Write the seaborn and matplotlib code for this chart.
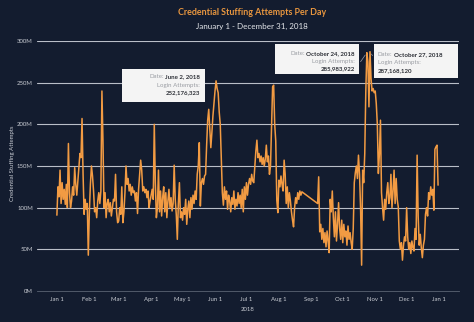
import matplotlib
matplotlib.use("Agg")
import matplotlib.pyplot as plt
import seaborn as sns
import pandas as pd
import numpy as np
from matplotlib.patches import Rectangle

# ---- data (millions of login attempts per day) ----
jan = [91,125,113,145,105,130,110,122,104,128,100,177,118,100,108,125,115,148,128,115,
       132,150,165,160,207,140,92,110,98,105,43]
feb = [95,128,150,138,120,95,100,88,108,118,105,120,240,180,100,118,88,105,110,95,
       106,90,100,110,108,140,95,82]
mar = [84,100,92,125,82,95,118,150,128,135,120,128,115,125,118,120,108,118,93,122,
       140,157,145,120,125,118,122,112,120,100,108]
apr = [115,122,110,200,130,88,100,145,95,120,90,112,125,95,118,88,108,122,100,112,
       96,105,151,110,92,62,105,130,88,95]
may = [85,100,92,110,80,98,108,88,112,98,115,105,120,110,140,150,178,102,130,135,
       128,138,140,175,205,218,195,172,190,210,225]
jun = [240,252,243,238,215,200,160,118,103,125,110,120,98,115,108,95,112,104,120,98,
       110,102,118,105,115,100,122,95,125,110]
jul = [130,115,128,135,128,140,132,130,150,168,181,160,165,155,162,152,160,150,158,175,
       155,162,140,150,200,245,247,200,180,109,94]
aug = [133,125,138,128,120,157,140,105,125,100,118,108,95,85,77,100,112,105,118,110,
       120,115,119]                      # Aug 1 - Aug 23 (no data Aug 24 - Sep 6)
sep = [105,137,71,80,62,75,58,70,53,72,60,46,110,95,120,88,65,95,60,80,
       106,75,62,85]                     # Sep 7 - Sep 30
oct_ = [58,80,65,72,55,78,62,70,58,50,75,130,142,150,135,163,140,100,31,145,
        130,165,240,286,275,221,287,255,240,243,238]
nov = [240,225,200,141,165,205,118,100,85,110,98,118,130,105,112,140,100,120,145,105,
       135,110,101,60,50,58,37,55,65,60]
dec = [100,65,50,58,45,60,52,48,75,62,163,90,55,68,52,40,55,62,92,100,
       90,118,110,125,115,122,97,170,173,175,127]

month_values = [jan, feb, mar, apr, may, jun, jul, aug, sep, oct_, nov, dec]
month_starts = ["2018-01-01", "2018-02-01", "2018-03-01", "2018-04-01", "2018-05-01",
                "2018-06-01", "2018-07-01", "2018-08-01", "2018-09-07", "2018-10-01",
                "2018-11-01", "2018-12-01"]

y_ticks = [0, 50e6, 100e6, 150e6, 200e6, 250e6, 300e6]
y_tick_labels = ["0M", "50M", "100M", "150M", "200M", "250M", "300M"]
x_tick_dates = ["2018-01-01", "2018-02-01", "2018-03-01", "2018-04-01", "2018-05-01",
                "2018-06-01", "2018-07-01", "2018-08-01", "2018-09-01", "2018-10-01",
                "2018-11-01", "2018-12-01", "2019-01-01"]
x_tick_labels = ["Jan 1", "Feb 1", "Mar 1", "Apr 1", "May 1", "Jun 1", "Jul 1",
                 "Aug 1", "Sep 1", "Oct 1", "Nov 1", "Dec 1", "Jan 1"]

callouts = [  # (date, exact value, label date)
    ("2018-06-02", 252176323, "June 2, 2018"),
    ("2018-10-24", 285983922, "October 24, 2018"),
    ("2018-10-27", 287168120, "October 27, 2018"),
]

# ---- build frame ----
dates, vals = [], []
for start, vs in zip(month_starts, month_values):
    d = pd.date_range(start, periods=len(vs), freq="D")
    dates.extend(d)
    vals.extend(v * 1e6 for v in vs)
df = pd.DataFrame({"date": dates, "attempts": vals})
for ds, exact, _ in callouts:
    df.loc[df["date"] == pd.Timestamp(ds), "attempts"] = exact

# ---- style ----
BG = "#131c2f"
ORANGE = "#f29b43"
GRID = "#b9bec8"
TXT = "#c9ccd3"

sns.set_theme(style="white")
plt.rcParams["font.family"] = ["Lato", "DejaVu Sans"]

W, H = 474, 322
fig = plt.figure(figsize=(W / 100, H / 100), dpi=100, facecolor=BG)
ax = fig.add_axes([37 / W, (H - 291) / H, (459 - 37) / W, 250 / H])
ax.set_facecolor(BG)

sns.lineplot(data=df, x="date", y="attempts", ax=ax, color=ORANGE, linewidth=1.1,
             zorder=3)

ax.set_ylim(0, 300e6)
ax.set_xlim(pd.Timestamp("2017-12-13"), pd.Timestamp("2019-01-20"))
ax.set_yticks(y_ticks)
ax.set_yticklabels(y_tick_labels)
ax.set_xticks(pd.to_datetime(x_tick_dates))
ax.set_xticklabels(x_tick_labels)
for s in ["top", "right", "left"]:
    ax.spines[s].set_visible(False)
ax.spines["bottom"].set_color("#5a6373")
ax.spines["bottom"].set_linewidth(0.6)
ax.grid(False)
for yv in y_ticks[1:]:
    ax.axhline(yv, color=GRID, linewidth=0.8, zorder=1)
ax.tick_params(axis="y", length=0, pad=3, labelsize=4.3, labelcolor=TXT)
ax.tick_params(axis="x", length=2, width=0.5, color="#6a7383", pad=2,
               labelsize=4.3, labelcolor=TXT, direction="out")
ax.set_xlabel("2018", fontsize=4.3, color=TXT, labelpad=4)
ax.set_ylabel("")

fig.text(13 / W, 1 - 163 / H, "Credential Stuffing Attempts", rotation=90,
         ha="center", va="center", fontsize=4.3, color=TXT)

fig.text(252 / W, 1 - 12.5 / H, "Credential Stuffing Attempts Per Day", ha="center",
         va="center", fontsize=6.4, color="#e8963f", fontweight="bold")
fig.text(252 / W, 1 - 26 / H, "January 1 - December 31, 2018", ha="center",
         va="center", fontsize=5.8, color="#e6e8ec")

# ---- callout boxes ----
boxes = [  # left, top, right, bottom (pixels from top-left), text align
    (122, 69, 205, 102, "right", 200, [76.5, 85, 93]),
    (275, 44, 359, 74, "right", 355, [53.3, 61, 69]),
    (374, 44, 458, 78, "left", 378, [54.3, 62.7, 70.7]),
]
renderer = fig.canvas.get_renderer()
LBL = "#9a9da3"
VAL = "#2c2f36"
fs = 4.4
for (l, t, r, b, align, tx, ys), (ds, exact, lab) in zip(boxes, callouts):
    fig.patches.append(Rectangle((l / W, 1 - b / H), (r - l) / W, (b - t) / H,
                                 transform=fig.transFigure, facecolor="#f4f4f4",
                                 edgecolor="none", zorder=5))
    val_str = f"{exact:,}"
    if align == "right":
        t1 = fig.text(tx / W, 1 - ys[0] / H, lab, ha="right", va="center", fontsize=fs,
                      color=VAL, fontweight="bold", zorder=6)
        bb = t1.get_window_extent(renderer)
        fig.text((bb.x0 - 1.5) / W, 1 - ys[0] / H, "Date:", ha="right", va="center",
                 fontsize=fs, color=LBL, zorder=6)
        fig.text(tx / W, 1 - ys[1] / H, "Login Attempts:", ha="right", va="center",
                 fontsize=fs, color=LBL, zorder=6)
        fig.text(tx / W, 1 - ys[2] / H, val_str, ha="right", va="center", fontsize=fs,
                 color=VAL, fontweight="bold", zorder=6)
    else:
        t0 = fig.text(tx / W, 1 - ys[0] / H, "Date:", ha="left", va="center",
                      fontsize=fs, color=LBL, zorder=6)
        bb = t0.get_window_extent(renderer)
        fig.text((bb.x1 + 1.5) / W, 1 - ys[0] / H, lab, ha="left", va="center",
                 fontsize=fs, color=VAL, fontweight="bold", zorder=6)
        fig.text(tx / W, 1 - ys[1] / H, "Login Attempts:", ha="left", va="center",
                 fontsize=fs, color=LBL, zorder=6)
        fig.text(tx / W, 1 - ys[2] / H, val_str, ha="left", va="center", fontsize=fs,
                 color=VAL, fontweight="bold", zorder=6)

# connectors for the October callouts
ax.annotate("", xy=(pd.Timestamp(callouts[1][0]), callouts[1][1]),
            xytext=(359, H - 64), textcoords="figure pixels",
            arrowprops=dict(arrowstyle="-", color="#9aa0aa", lw=0.5), zorder=4)
ax.annotate("", xy=(pd.Timestamp(callouts[2][0]), callouts[2][1]),
            xytext=(374, H - 58), textcoords="figure pixels",
            arrowprops=dict(arrowstyle="-", color="#9aa0aa", lw=0.5), zorder=4)

fig.savefig("out.png", dpi=100, facecolor=BG)
